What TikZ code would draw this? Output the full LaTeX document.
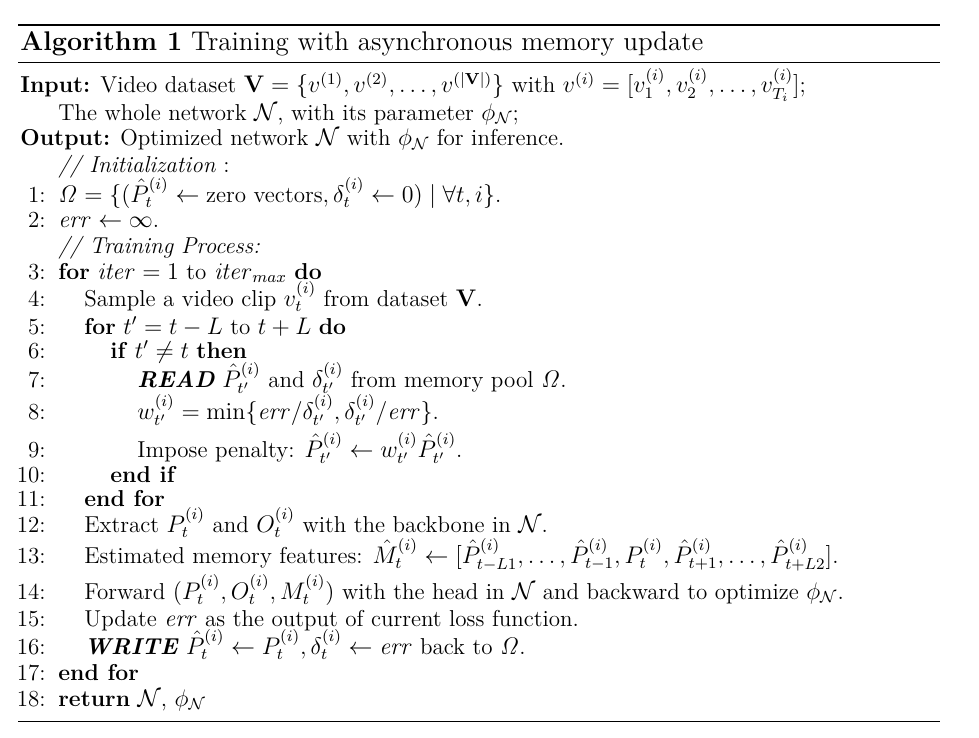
\documentclass[tikz,border=0pt]{standalone}
\usepackage{amsmath,amssymb,bm}
\begin{document}
\begin{tikzpicture}[x=0.5pt,y=-0.5pt,yshift=-1.5pt,
  every node/.style={font=\fontsize{11.5}{14}\selectfont},
  tx/.style={anchor=base west,inner sep=0pt},
  nm/.style={anchor=base east,inner sep=0pt}]
\useasboundingbox (0,-3) rectangle (979,735);
\draw[line width=0.8pt] (18,22) -- (940,22);
\draw[line width=0.4pt] (18,59) -- (940,59);
\draw[line width=0.4pt] (18,718) -- (940,718);
\node[tx,font=\fontsize{13.5}{16}\selectfont] (cap) at (20,48) {\textbf{Algorithm 1} Training with asynchronous memory update};
\node[tx] (in) at (20,90) {\textbf{Input:} Video dataset $\mathbf{V}=\{v^{(1)},v^{(2)},\dots,v^{(|\mathbf{V}|)}\}$ with $v^{(i)}=[v^{(i)}_1,v^{(i)}_2,\dots,v^{(i)}_{T_i}]$;};
\node[tx] (in2) at (58,117) {The whole network $\mathcal{N}$, with its parameter $\phi_{\mathcal{N}}$;};
\node[tx] (out) at (20,143) {\textbf{Output:} Optimized network $\mathcal{N}$ with $\phi_{\mathcal{N}}$ for inference.};
\node[tx] (c1) at (58,169) {\textit{// Initialization} :};
\node[nm] (n1) at (46,199) {1:};
\node[tx] (l1) at (58,199) {$\mathit{\Omega}=\{(\hat{P}^{(i)}_t\leftarrow\text{zero vectors},\delta^{(i)}_t\leftarrow0)\mid\forall t,i\}$.};
\node[nm] (n2) at (46,224) {2:};
\node[tx] (l2) at (58,224) {$\mathit{err}\leftarrow\infty$.};
\node[tx] (c2) at (58,250) {\textit{// Training Process:}};
\node[nm] (n3) at (46,276) {3:};
\node[tx] (l3) at (58,276) {\textbf{for} $\mathit{iter}=1$ to $\mathit{iter}_{max}$ \textbf{do}};
\node[nm] (n4) at (46,303) {4:};
\node[tx] (l4) at (84,303) {Sample a video clip $v^{(i)}_t$ from dataset $\mathbf{V}$.};
\node[nm] (n5) at (46,331) {5:};
\node[tx] (l5) at (84,331) {\textbf{for} $t'=t-L$ to $t+L$ \textbf{do}};
\node[nm] (n6) at (46,355) {6:};
\node[tx] (l6) at (110,355) {\textbf{if} $t'\neq t$ \textbf{then}};
\node[nm] (n7) at (46,384) {7:};
\node[tx] (l7) at (137,384) {\textbf{\textit{READ}} $\hat{P}^{(i)}_{t'}$ and $\delta^{(i)}_{t'}$ from memory pool $\mathit{\Omega}$.};
\node[nm] (n8) at (46,416) {8:};
\node[tx] (l8) at (137,416) {$w^{(i)}_{t'}=\min\{\mathit{err}/\delta^{(i)}_{t'},\delta^{(i)}_{t'}/\mathit{err}\}$.};
\node[nm] (n9) at (46,454) {9:};
\node[tx] (l9) at (137,454) {Impose penalty: $\hat{P}^{(i)}_{t'}\leftarrow w^{(i)}_{t'}\hat{P}^{(i)}_{t'}$.};
\node[nm] (n10) at (46,479) {10:};
\node[tx] (l10) at (110,479) {\textbf{end if}};
\node[nm] (n11) at (46,503) {11:};
\node[tx] (l11) at (84,503) {\textbf{end for}};
\node[nm] (n12) at (46,529) {12:};
\node[tx] (l12) at (84,529) {Extract $P^{(i)}_t$ and $O^{(i)}_t$ with the backbone in $\mathcal{N}$.};
\node[nm] (n13) at (46,560) {13:};
\node[tx] (l13) at (84,560) {Estimated memory features: $\hat{M}^{(i)}_t\leftarrow[\hat{P}^{(i)}_{t-L1},\dots,\hat{P}^{(i)}_{t-1},P^{(i)}_t,\hat{P}^{(i)}_{t+1},\dots,\hat{P}^{(i)}_{t+L2}]$.};
\node[nm] (n14) at (46,596) {14:};
\node[tx] (l14) at (84,596) {Forward $(P^{(i)}_t,O^{(i)}_t,M^{(i)}_t)$ with the head in $\mathcal{N}$ and backward to optimize $\phi_{\mathcal{N}}$.};
\node[nm] (n15) at (46,623) {15:};
\node[tx] (l15) at (84,623) {Update $\mathit{err}$ as the output of current loss function.};
\node[nm] (n16) at (46,651) {16:};
\node[tx] (l16) at (84,651) {\textbf{\textit{WRITE}} $\hat{P}^{(i)}_t\leftarrow P^{(i)}_t,\delta^{(i)}_t\leftarrow\mathit{err}$ back to $\mathit{\Omega}$.};
\node[nm] (n17) at (46,677) {17:};
\node[tx] (l17) at (58,677) {\textbf{end for}};
\node[nm] (n18) at (46,703) {18:};
\node[tx] (l18) at (58,703) {\textbf{return} $\mathcal{N}$, $\phi_{\mathcal{N}}$};
\end{tikzpicture}
\end{document}
